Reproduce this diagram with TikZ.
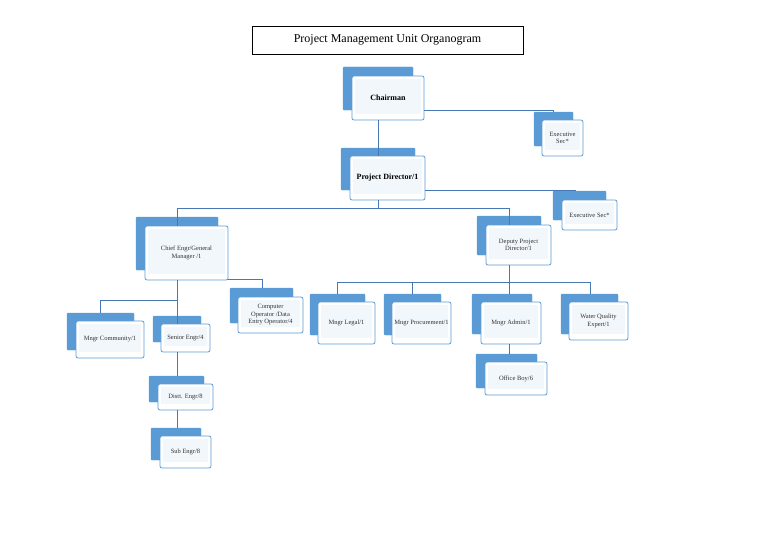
\documentclass[tikz,border=0pt]{standalone}
\usepackage{fontspec}
\setmainfont{Liberation Serif}
\usetikzlibrary{fit}
\definecolor{ob}{RGB}{91,155,213}
\definecolor{ln}{RGB}{70,120,180}
\tikzset{
 backbox/.style={fill=ob,draw=ob,rounded corners=1pt},
 frontbox/.style={fill=white,draw=ob,line width=0.8pt,rounded corners=2pt,inner sep=0pt},
 lab/.style={font=\fontsize{6.5}{7.5}\selectfont,align=center,text=black!80},
 conn/.style={draw=ln,line width=0.7pt}
}
\newcommand{\obx}[9]{%
 \fill[backbox] (#2) rectangle (#3);
 \node[frontbox,fit={(#4)(#5)}] (#1) {};
 \fill[white!92!ob] ($(#1.north west)+(3,3)$) rectangle ($(#1.south east)+(-3,-6)$);
 \node[lab,#6] at (#1.center) {#7};}
\usetikzlibrary{calc}
\begin{document}
\begin{tikzpicture}[x=1pt,y=-1pt]
\useasboundingbox (0,0) rectangle (768,543);
\node[draw,line width=0.6pt,minimum width=271pt,minimum height=28pt,font=\fontsize{12}{14}\selectfont] (title) at (387.5,40) {Project Management Unit Organogram};
\obx{ch}{343,67}{413,110}{352,76}{424,120}{font=\fontsize{8}{9}\selectfont\bfseries,text=black}{Chairman}{}{}
\obx{es1}{534,112}{573,146}{542,120}{583,156}{}{Executive\\Sec*}{}{}
\obx{pd}{341,148}{415,190}{350,156}{425,200}{font=\fontsize{8}{9}\selectfont\bfseries,text=black}{Project Director/1}{}{}
\obx{es2}{553,191}{606,220}{562,200}{617,230}{}{Executive Sec*}{}{}
\obx{ce}{136,217}{218,270}{145,226}{228,280}{}{Chief Engr/General\\Manager /1}{}{}
\obx{dp}{477,216}{541,255}{486,225}{551,265}{}{Deputy Project\\Director/1}{}{}
\obx{co}{230,288}{293,323}{238,297}{303,333}{}{Computer\\Operator /Data\\Entry Operator/4}{}{}
\obx{ml}{310,294}{365,335}{318,302}{375,344}{}{Mngr Legal/1}{}{}
\obx{mp}{384,294}{441,335}{392,302}{451,344}{}{Mngr Procurement/1}{}{}
\obx{ma}{472,294}{532,334}{481,302}{541,344}{}{Mngr Admin/1}{}{}
\obx{wq}{561,294}{618,334}{569,302}{628,340}{}{Water Quality\\Expert/1}{}{}
\obx{obx}{476,354}{537,388}{485,362}{547,395}{}{Office Boy/6}{}{}
\obx{mc}{67,313}{134,350}{76,321}{144,358}{}{Mngr Community/1}{}{}
\obx{se}{153,316}{201,342}{161,324}{210,352}{}{Senior Engr/4}{}{}
\obx{de}{149,376}{204,402}{158,384}{213,410}{}{Distt. Engr/8}{}{}
\obx{sb}{151,428}{201,460}{160,436}{211,468}{}{Sub Engr/8}{}{}
\coordinate (es1t) at (553,112);
\coordinate (es2t) at (575,191);
\coordinate (ceR) at (228,279);
\coordinate (cotop) at (262,288);
\draw[conn] (ch.east|-0,110) -| (es1t);
\draw[conn] (378,120) -- (378,156);
\draw[conn] (pd.east|-0,190) -| (es2t);
\draw[conn] (378,200) -- (378,208);
\draw[conn] (177,226) |- (509,208) -- (509,225);
\draw[conn] (177,280) -- (177,324);
\draw[conn] (177,300) -- (100,300) -- (100,313);
\draw[conn] (ceR) -| (cotop);
\draw[conn] (177,352) -- (177,376);
\draw[conn] (177,410) -- (177,428);
\draw[conn] (509,265) -- (509,294);
\draw[conn] (337,294) |- (590,282) -- (590,294);
\draw[conn] (412,282) -- (412,294);
\draw[conn] (509,344) -- (509,354);
\end{tikzpicture}
\end{document}
